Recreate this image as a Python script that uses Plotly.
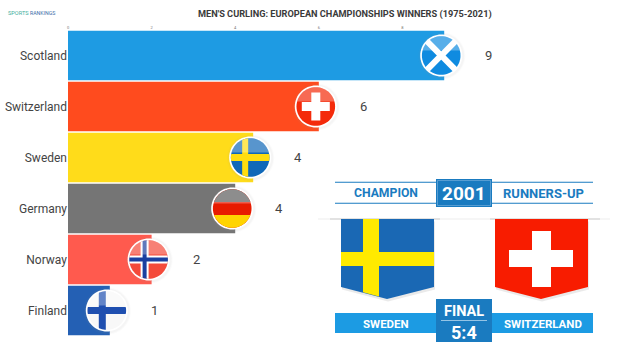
import math
import plotly.graph_objects as go

countries = ["Scotland", "Switzerland", "Sweden", "Germany", "Norway", "Finland"]
bar_lengths = [9, 6, 4.43, 4, 2, 1]
win_labels = [9, 6, 4, 4, 2, 1]
bar_colors = ["#1E9BE3", "#FF4B1E", "#FFDC1A", "#757575", "#FF5A4E", "#2460B4"]
axis_ticks = [0, 2, 4, 6, 8]
year = "2001"
champion = "SWEDEN"
runner_up = "SWITZERLAND"
score = "5:4"
title = "MEN'S CURLING: EUROPEAN CHAMPIONSHIPS WINNERS (1975-2021)"

W, H = 640, 360
X0, UNIT = 68.0, 41.8
Y_TOP, Y_BOT = 30.0, 336.0
FONT = "Roboto"
DARK_BLUE = "#1A7BC0"
BAND_BLUE = "#1C9BE3"

def px(x):
    return x / W

def py(y):
    return 1 - y / H

def path(points):
    return "M " + " L ".join(f"{px(x):.5f} {py(y):.5f}" for x, y in points) + " Z"

shapes = []

def poly(points, color, opacity=1.0):
    shapes.append(dict(type="path", xref="paper", yref="paper", path=path(points),
                       fillcolor=color, opacity=opacity, line=dict(width=0), layer="above"))

def rect(x0, y0, x1, y1, color, opacity=1.0, line=None):
    shapes.append(dict(type="rect", xref="paper", yref="paper", x0=px(x0), x1=px(x1), y0=py(y0), y1=py(y1),
                       fillcolor=color, opacity=opacity, layer="above",
                       line=dict(width=0) if line is None else line))

def clip(points, cx, cy, r):
    """Sample a polygon's edge and pull outlying samples on to the circle."""
    out = []
    n = len(points)
    for i in range(n):
        a, b = points[i], points[(i + 1) % n]
        for k in range(24):
            t = k / 24
            x, y = a[0] + (b[0] - a[0]) * t, a[1] + (b[1] - a[1]) * t
            d = math.hypot(x - cx, y - cy)
            if d > r:
                x, y = cx + (x - cx) * r / d, cy + (y - cy) * r / d
            out.append((x, y))
    return out

def circle_pts(cx, cy, r, n=64):
    return [(cx + r * math.cos(2 * math.pi * i / n), cy + r * math.sin(2 * math.pi * i / n)) for i in range(n)]

def box(cx, cy, r, x0, y0, x1, y1, color):
    poly(clip([(x0, y0), (x1, y0), (x1, y1), (x0, y1)], cx, cy, r), color)

def badge(cx, cy, name):
    for grow, op in ((3.5, 0.04), (2.5, 0.06)):
        poly(circle_pts(cx + 0.5, cy + 0.5, 20 + grow), "#9a9a9a", op)
    poly(circle_pts(cx, cy, 21), "#FFFFFF")
    r = 19.3
    if name == "Scotland":
        poly(circle_pts(cx, cy, r), "#0F8BE0")
        w = 3.0 * 0.71
        d = 25 * 0.71
        for s in (1, -1):
            arm = [(cx - d - w, cy - s * d + s * w), (cx - d + w, cy - s * d - s * w),
                   (cx + d + w, cy + s * d - s * w), (cx + d - w, cy + s * d + s * w)]
            poly(clip(arm, cx, cy, r + 0.7), "#FFFFFF")
    elif name == "Switzerland":
        poly(circle_pts(cx, cy, r), "#F42A0A")
        rect(cx - 4.5, cy - 14, cx + 4.5, cy + 14, "#FFFFFF")
        rect(cx - 14, cy - 4.5, cx + 14, cy + 4.5, "#FFFFFF")
    elif name == "Sweden":
        poly(circle_pts(cx, cy, r), "#1068B8")
        box(cx, cy, r, cx - 8, cy - 20, cx - 2, cy + 20, "#FFDD10")
        box(cx, cy, r, cx - 20, cy - 3.5, cx + 20, cy + 3.5, "#FFDD10")
    elif name == "Germany":
        poly(circle_pts(cx, cy, r), "#E81B00")
        box(cx, cy, r, cx - 20, cy - 20, cx + 20, cy - 6.5, "#5C5C5C")
        box(cx, cy, r, cx - 20, cy + 6.5, cx + 20, cy + 20, "#FFD400")
    elif name == "Norway":
        poly(circle_pts(cx, cy, r), "#F44A3A")
        box(cx, cy, r, cx - 8, cy - 20, cx + 0, cy + 20, "#FFFFFF")
        box(cx, cy, r, cx - 20, cy - 4, cx + 20, cy + 4, "#FFFFFF")
        box(cx, cy, r, cx - 6, cy - 20, cx - 2, cy + 20, "#1A3FA0")
        box(cx, cy, r, cx - 20, cy - 2, cx + 20, cy + 2, "#1A3FA0")
    elif name == "Finland":
        poly(circle_pts(cx, cy, r), "#F8F8F8")
        box(cx, cy, r, cx - 8, cy - 20, cx - 1, cy + 20, "#1F4FB0")
        box(cx, cy, r, cx - 20, cy - 3.5, cx + 20, cy + 3.5, "#1F4FB0")
    # glossy upper highlight
    gloss = [p for p in circle_pts(cx, cy, r, 96) if p[1] <= cy - 4]
    gloss = sorted(gloss, key=lambda p: p[0])
    poly(gloss, "#FFFFFF", 0.3)

pitch = (Y_BOT - Y_TOP) / 6
for i, (name, value) in enumerate(zip(countries, bar_lengths)):
    badge(X0 + UNIT * value - 3, Y_TOP + pitch * (i + 0.5), name)

# ---- right hand panel
for yy in (182.3, 203.3):
    rect(335, yy - 0.5, 593, yy + 0.5, DARK_BLUE)
rect(436, 179, 492, 207, DARK_BLUE)
rect(437.5, 180.5, 490.5, 205.5, "rgba(0,0,0,0)", line=dict(color="#7FB6DE", width=0.6))

for xa, xb, op in ((318, 610, 0.05), (330, 440, 0.12), (490, 600, 0.12)):
    rect(xa, 218, xb, 220, "#555555", op)

def pennant(x0, x1, tip_x):
    return [(x0, 219), (x1, 219), (x1, 287), (tip_x, 299), (x0, 287)]

poly([(x + 1, y + 2.5) for x, y in pennant(341, 434, 387)], "#888888", 0.18)
poly([(x + 1, y + 2.5) for x, y in pennant(495, 588, 541)], "#888888", 0.18)
poly(pennant(341, 434, 387), "#1A68B4")
poly([(363, 219), (379, 219), (379, 296.4), (363, 292.3)], "#FFEA00")
rect(341, 252, 434, 266, "#FFEA00")
poly(pennant(495, 588, 541), "#F81C00")
rect(532, 231, 551, 287, "#FFFFFF")
rect(509, 250, 573, 267, "#FFFFFF")

rect(335, 313, 593, 333, BAND_BLUE)
rect(436, 299, 492, 342, DARK_BLUE)
rect(441, 320, 487, 320.8, "#BFDDF2")

def note(x, y, text, size, color, bold=False, anchor="center", family=FONT):
    t = f"<b>{text}</b>" if bold else text
    return dict(xref="paper", yref="paper", x=px(x), y=py(y), text=t, showarrow=False,
                xanchor=anchor, yanchor="middle", font=dict(family=family, size=size, color=color))

annotations = [
    note(345, 14, title, 9.2, "#3A3A3A", True),
    note(6, 13, "SPORTS", 5.6, "#3FAE9E", anchor="left"),
    note(27.5, 13, "RANKINGS", 5.2, "#3C6CA8", anchor="left"),
    note(386, 193, "CHAMPION", 12.2, DARK_BLUE, True),
    note(543, 193, "RUNNERS-UP", 13, DARK_BLUE, True),
    note(464, 193.5, year, 19, "#FFFFFF", True),
    note(386, 323.5, champion, 11.5, "#FFFFFF", True),
    note(543, 323.5, runner_up, 11.5, "#FFFFFF", True),
    note(464, 311, "FINAL", 14.5, "#FFFFFF", True),
    note(464, 332, score, 18, "#FFFFFF", True),
]

label_x = [488, 363, 298, 279, 196, 154]
for i, (lab, lx) in enumerate(zip(win_labels, label_x)):
    annotations.append(note(lx, Y_TOP + pitch * (i + 0.5), str(lab), 13, "#444444"))

fig = go.Figure(go.Bar(x=bar_lengths, y=countries, orientation="h",
                       marker=dict(color=bar_colors, line=dict(width=0)), hoverinfo="skip"))
fig.update_layout(
    width=W, height=H, margin=dict(l=0, r=0, t=0, b=0), autosize=False,
    paper_bgcolor="white", plot_bgcolor="white", showlegend=False, bargap=0.03,
    shapes=shapes, annotations=annotations,
    font=dict(family=FONT),
    xaxis=dict(domain=[X0 / W, 1], range=[0, (W - X0) / UNIT], side="top", anchor="free", position=1 - Y_TOP / H,
               tickvals=axis_ticks, showgrid=False, zeroline=False, showline=False, ticks="",
               tickfont=dict(size=4, color="#777777"), ticklen=0),
    yaxis=dict(domain=[1 - Y_BOT / H, 1 - Y_TOP / H], autorange=False, range=[5.5, -0.5],
               categoryorder="array", categoryarray=countries, showgrid=False, zeroline=False,
               showline=False, ticks="", ticklen=0, tickfont=dict(size=12, color="#444444")),
)
fig.write_html("out.html", config={"displayModeBar": False},
               post_script="document.body.style.margin='0';")
